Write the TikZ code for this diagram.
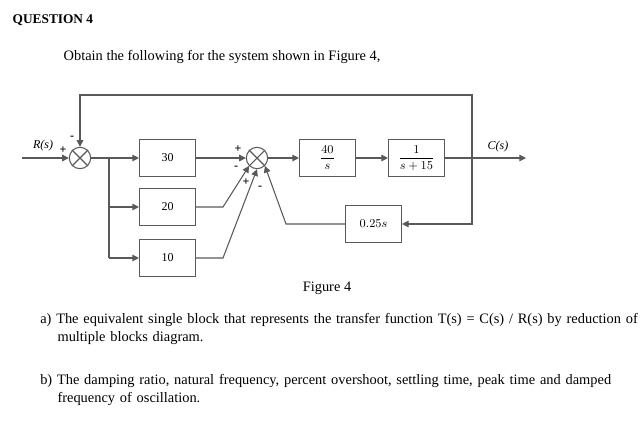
\documentclass[tikz,border=0pt]{standalone}
\usepackage{fontspec}
\setmainfont{Liberation Serif}
\usetikzlibrary{arrows.meta}
\begin{document}
\begin{tikzpicture}[x=0.75pt,y=-0.75pt,
  txt/.style={font=\fontsize{10.8}{14.2}\selectfont},
  blk/.style={draw=gray!70!black,line width=0.8pt,minimum width=42pt,minimum height=28pt,inner sep=0pt,font=\small},
  sumj/.style={draw=gray!70!black,line width=0.8pt,circle,minimum size=16pt,inner sep=0pt},
  sig/.style={draw=gray!70!black,line width=0.8pt,-{Triangle[length=5pt,width=5pt]}},
  ln/.style={draw=gray!70!black,line width=0.8pt},
  sgn/.style={font=\small\bfseries,inner sep=0pt}]
\useasboundingbox (0,0) rectangle (640,429);
\node[anchor=west,font=\bfseries] (q) at (8,20) {QUESTION 4};
\node[anchor=west,txt] (ob) at (59,57) {Obtain the following for the system shown in Figure 4,};
% blocks
\node[sumj] (s1) at (80,158) {};
\draw[ln] (s1.north west)--(s1.south east) (s1.north east)--(s1.south west);
\node[blk] (b30) at (167.5,158) {30};
\node[blk] (b20) at (167.5,207) {20};
\node[blk] (b10) at (167.5,258) {10};
\node[sumj] (s2) at (257,158) {};
\draw[ln] (s2.north west)--(s2.south east) (s2.north east)--(s2.south west);
\node[blk] (g1) at (327.5,158) {$\displaystyle\frac{40}{s}$};
\node[blk] (g2) at (416.5,158) {$\displaystyle\frac{1}{s+15}$};
\node[blk] (h) at (373.5,224) {$0.25s$};
\coordinate (in) at (22,158);
\coordinate (br) at (109,158);
\coordinate (to) at (472,158);
\coordinate (out) at (526,158);
% connections
\draw[sig] (in) -- (s1);
\draw[sig] (s1) -- (b30);
\draw[ln] (br) -- (109,258);
\draw[sig] (109,207) -- (b20);
\draw[sig] (109,258) -- (b10);
\draw[sig] (b30) -- (s2);
\draw[sig] (b20.east) -- (223,207) -- (s2.south west);
\draw[sig] (b10.east) -- (223,258) -- (s2.south);
\draw[sig] (s2) -- (g1);
\draw[sig] (g1) -- (g2);
\draw[sig] (g2) -- (out);
\draw[sig] (to) -- (472,95) -- (80,95) -- (s1);
\draw[sig] (to) -- (472,224) -- (h.east);
\draw[sig] (h.west) -- (286,224) -- (s2.south east);
% labels
\node[font=\small\itshape] (rs) at (43,146) {R(s)};
\node[font=\small\itshape] (cs) at (498,147) {C(s)};
\node[sgn] (p1) at (63,150) {+};
\node[sgn] (m1) at (72,138) {-};
\node[sgn] (p2) at (238,149) {+};
\node[sgn] (m2) at (236,168) {-};
\node[sgn] (p3) at (246,182) {+};
\node[sgn] (m3) at (260,188) {-};
\node[txt] (fig) at (327,288) {Figure 4};
\node[anchor=west,txt,text width=470pt,align=left,inner sep=0pt] (a) at (40,329) {a)\ The equivalent single block that represents the transfer function T(s) = C(s) / R(s) by reduction of\\ \hspace*{1.2em}multiple blocks diagram.};
\node[anchor=west,txt,text width=470pt,align=left,inner sep=0pt] (b) at (40,390) {b)\ The damping ratio, natural frequency, percent overshoot, settling time, peak time and damped\\ \hspace*{1.2em}frequency of oscillation.};
\end{tikzpicture}
\end{document}
